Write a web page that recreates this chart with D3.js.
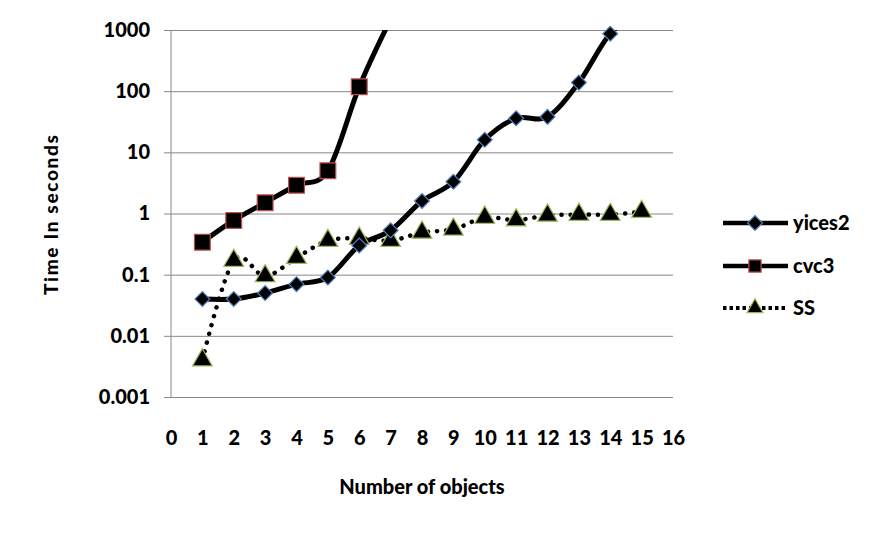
<!DOCTYPE html>
<html>
<head>
<meta charset="utf-8">
<script src="https://cdn.jsdelivr.net/npm/d3@7/dist/d3.min.js"></script>
<style>
  body { margin: 0; background: #fff; }
  text { font-family: Lato, "Open Sans", sans-serif; font-weight: 900; fill: #000; }
</style>
</head>
<body>
<div id="chart"></div>
<script>
// data
var objects = [1, 2, 3, 4, 5, 6, 7, 8, 9, 10, 11, 12, 13, 14, 15];
var yices2 = [0.04, 0.04, 0.05, 0.07, 0.09, 0.3, 0.53, 1.6, 3.3, 16, 36, 38, 138, 870, 2000];
var cvc3 = [0.34, 0.77, 1.5, 2.9, 5.0, 118, 1500];
var ss = [0.004, 0.17, 0.095, 0.19, 0.36, 0.39, 0.36, 0.49, 0.55, 0.86, 0.78, 0.93, 0.96, 0.96, 1.07];
var xTicks = d3.range(0, 17);
var yTicks = [0.001, 0.01, 0.1, 1, 10, 100, 1000];
var seriesNames = ['yices2', 'cvc3', 'SS'];

var width = 881, height = 533;
var plotLeft = 171, plotRight = 673, plotTop = 30, plotBottom = 397;

var svg = d3.select('#chart').append('svg')
    .attr('width', width)
    .attr('height', height);

var x = d3.scaleLinear().domain([0, 16]).range([plotLeft, plotRight]);
var y = d3.scaleLog().domain([0.001, 1000]).range([plotBottom, plotTop]);

// gridlines + y labels
var yAxis = d3.axisLeft(y)
    .tickValues(yTicks)
    .tickSize(-(plotRight - plotLeft + 7))
    .tickFormat(d => d >= 1 ? d3.format('d')(d) : String(d));
var gy = svg.append('g')
    .attr('transform', 'translate(' + (plotLeft - 7) + ',0)')
    .call(yAxis);
gy.select('.domain').remove();
gy.selectAll('.tick line').attr('stroke', '#888');
gy.selectAll('.tick text')
    .attr('x', -14)
    .attr('font-size', 20)
    .style('font-family', 'Lato, sans-serif')
    .style('font-weight', '900');

// vertical axis line
svg.append('line')
    .attr('x1', plotLeft).attr('x2', plotLeft)
    .attr('y1', plotTop).attr('y2', plotBottom)
    .attr('stroke', '#888');

// x labels (sit well below the axis, as in the original)
var xAxis = d3.axisBottom(x).tickValues(xTicks).tickSize(0);
var gx = svg.append('g')
    .attr('transform', 'translate(0,' + (plotBottom + 31) + ')')
    .call(xAxis);
gx.select('.domain').remove();
gx.selectAll('.tick text')
    .attr('font-size', 20)
    .style('font-family', 'Lato, sans-serif')
    .style('font-weight', '900');

// titles
svg.append('text')
    .attr('transform', 'translate(58,215) rotate(-90)')
    .attr('text-anchor', 'middle')
    .attr('font-size', 19)
    .attr('textLength', 160)
    .text('Time In seconds');
svg.append('text')
    .attr('x', 422).attr('y', 494)
    .attr('text-anchor', 'middle')
    .attr('font-size', 20)
    .text('Number of objects');

// lines, clipped to the plot area
svg.append('clipPath').attr('id', 'plot')
    .append('rect')
    .attr('x', plotLeft).attr('y', plotTop)
    .attr('width', plotRight - plotLeft).attr('height', plotBottom - plotTop);

var line = d3.line()
    .x(d => x(d[0]))
    .y(d => y(d[1]))
    .curve(d3.curveCatmullRom.alpha(0));

function pairs(vals) {
    return vals.map((v, i) => [objects[i], v]);
}

var plot = svg.append('g').attr('clip-path', 'url(#plot)');

plot.append('path')
    .datum(pairs(ss))
    .attr('d', line)
    .attr('fill', 'none')
    .attr('stroke', '#000')
    .attr('stroke-width', 4.5)
    .attr('stroke-linecap', 'round')
    .attr('stroke-dasharray', '0.1 9');

plot.append('path')
    .datum(pairs(yices2))
    .attr('d', line)
    .attr('fill', 'none')
    .attr('stroke', '#000')
    .attr('stroke-width', 5);

plot.append('path')
    .datum(pairs(cvc3))
    .attr('d', line)
    .attr('fill', 'none')
    .attr('stroke', '#000')
    .attr('stroke-width', 5);

var diamond = d3.symbol().type(d3.symbolSquare).size(110);
var square = d3.symbol().type(d3.symbolSquare).size(250);
var triangle = d3.symbol().type(d3.symbolTriangle).size(170);

function markers(vals, sym, stroke, rot) {
    svg.append('g').selectAll('path')
        .data(pairs(vals).filter(d => d[1] <= 1000))
        .join('path')
        .attr('d', sym)
        .attr('transform', d => 'translate(' + x(d[0]) + ',' + y(d[1]) + ') rotate(' + rot + ')')
        .attr('fill', '#000')
        .attr('stroke', stroke)
        .attr('stroke-width', 1.2);
}
markers(ss, triangle, '#9bbb59', 0);
markers(yices2, diamond, '#4f81bd', 45);
markers(cvc3, square, '#c0504d', 0);

// legend
var legendY = [223, 266, 308];
var legendSym = [[diamond, '#4f81bd', 45, false], [d3.symbol().type(d3.symbolSquare).size(150), '#c0504d', 0, false], [d3.symbol().type(d3.symbolTriangle).size(110), '#9bbb59', 0, true]];
var lg = svg.append('g');
seriesNames.forEach(function(name, i) {
    var s = legendSym[i];
    var l = lg.append('line')
        .attr('x1', 723).attr('x2', 788)
        .attr('y1', legendY[i]).attr('y2', legendY[i])
        .attr('stroke', '#000')
        .attr('stroke-width', s[3] ? 4 : 4.5);
    if (s[3]) l.attr('stroke-dasharray', '3.5 3');
    lg.append('path')
        .attr('d', s[0])
        .attr('transform', 'translate(755,' + legendY[i] + ') rotate(' + s[2] + ')')
        .attr('fill', '#000')
        .attr('stroke', s[1])
        .attr('stroke-width', 1.2);
    lg.append('text')
        .attr('x', 793).attr('y', legendY[i])
        .attr('dy', '0.35em')
        .attr('font-size', 20)
        .text(name);
});
</script>
</body>
</html>
